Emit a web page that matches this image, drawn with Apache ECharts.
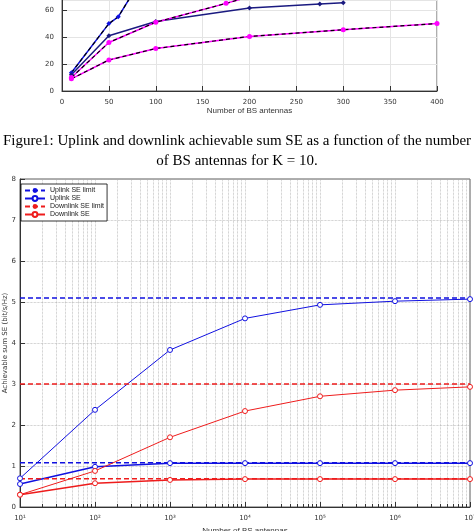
<!DOCTYPE html>
<html><head><meta charset="utf-8">
<script src="https://cdn.jsdelivr.net/npm/echarts@6/dist/echarts.min.js"></script>
<style>html,body{margin:0;padding:0;background:#fff}#c{width:474px;height:531px}</style>
</head><body><div id="c"></div>
<script>
// Top chart (Figure 1, cropped)
const topBlueSteep = [[10,13.5],[50,50],[60,55],[75,72]];
const topBlueMid = [[10,12],[50,41],[100,51.5],[200,61.5],[275,64.5],[300,65.5]];
const topMagUpper = [[10,10],[50,36],[100,51],[175,65],[200,70]];
const topMagLower = [[10,9],[50,23],[100,31.5],[200,40.5],[300,45.5],[400,50]];
// Bottom chart
const antennas = [10,100,1000,10000,100000,1000000,10000000];
const uplinkLimitHigh = 5.1, uplinkLimitLow = 1.08;
const downlinkLimitHigh = 3.0, downlinkLimitLow = 0.69;
const uplinkHigh = [0.7,2.37,3.83,4.6,4.93,5.02,5.07];
const uplinkLow = [0.56,0.98,1.07,1.07,1.07,1.07,1.07];
const downlinkHigh = [0.3,0.88,1.7,2.34,2.7,2.85,2.93];
const downlinkLow = [0.3,0.58,0.66,0.68,0.68,0.68,0.68];
const captionLines = ['Figure1: Uplink and downlink achievable sum SE as a function of the number','of BS antennas for K = 10.'];
const yTitle = 'Achievable sum SE (bit/s/Hz)';

const pair = a => antennas.map((x,i)=>[x,a[i]]);
const flat = v => [[10,v],[1e7,v]];
const supMap = {'1':'¹','2':'²','3':'³','4':'⁴','5':'⁵','6':'⁶','7':'⁷'};
const blue='#1010e0', red='#ee1c1c', mag='#ff00ff';
const axisTxt = {fontSize:7,color:'#333',fontFamily:'DejaVu Sans'};
const dotGrid = {show:true,lineStyle:{type:'dotted',color:'#aaa',width:0.7}};
const chart = echarts.init(document.getElementById('c'));
chart.setOption({
  animation:false,
  graphic: captionLines.map((t,i)=>({type:'text',left:'center',top:134+i*20,
    style:{text:t,font:'15px "Liberation Serif"',fill:'#000'}})).concat([
    {type:'text',x:5,y:343,rotation:Math.PI/2,
     style:{text:yTitle,font:'7px "DejaVu Sans"',fill:'#333',align:'center',verticalAlign:'middle'}}]),
  legend:{left:21,top:184,orient:'vertical',itemGap:1,itemWidth:20,itemHeight:6,
    padding:[3,3,3,3],backgroundColor:'#fff',borderColor:'#000',borderWidth:0.8,
    textStyle:{fontSize:7,color:'#222'},
    data:['Uplink SE limit','Uplink SE','Downlink SE limit','Downlink SE']},
  grid:[
    {left:62,right:37,top:0,bottom:440,show:true,borderColor:'#333',borderWidth:0.8,outerBoundsMode:'none',containLabel:false},
    {left:20,right:4,top:179,bottom:24,show:true,borderColor:'#333',borderWidth:0.8,outerBoundsMode:'none',containLabel:false}
  ],
  xAxis:[
    {gridIndex:0,type:'value',min:0,max:400,interval:50,name:'Number of BS antennas',nameLocation:'middle',nameGap:16,
     nameTextStyle:{fontSize:8,color:'#333'},axisLabel:axisTxt,axisLine:{lineStyle:{color:'#333'}},
     axisTick:{inside:true},splitLine:{show:true,lineStyle:{color:'#e4e4e4'}}},
    {gridIndex:1,type:'log',logBase:10,min:10,max:1e7,name:'Number of BS antennas',nameLocation:'middle',nameGap:16,
     nameTextStyle:{fontSize:8,color:'#333'},
     axisLabel:Object.assign({},axisTxt,{formatter:v=>'10'+(supMap[String(Math.round(Math.log10(v)))]||'')}),
     axisLine:{lineStyle:{color:'#333'}},axisTick:{inside:true},
     minorTick:{show:true,splitNumber:9},splitLine:dotGrid,minorSplitLine:dotGrid}
  ],
  yAxis:[
    {gridIndex:0,type:'value',min:0,max:67.5,interval:20,axisLabel:Object.assign({},axisTxt,{showMaxLabel:false}),
     axisLine:{lineStyle:{color:'#333'}},axisTick:{inside:true},splitLine:{show:true,lineStyle:{color:'#e4e4e4'}}},
    {gridIndex:1,type:'value',min:0,max:8,interval:1,
     axisLabel:Object.assign({},axisTxt,{margin:4}),
     axisLine:{lineStyle:{color:'#333'}},axisTick:{inside:true},splitLine:dotGrid}
  ],
  series:[
    {type:'line',xAxisIndex:0,yAxisIndex:0,data:topBlueSteep,color:blue,symbol:'diamond',symbolSize:5,lineStyle:{width:1.5}},
    {type:'line',xAxisIndex:0,yAxisIndex:0,data:topBlueSteep,color:'#000',symbol:'none',lineStyle:{width:1.2,type:[4,3]}},
    {type:'line',xAxisIndex:0,yAxisIndex:0,data:topBlueMid,color:'#1a1a80',symbol:'diamond',symbolSize:5,lineStyle:{width:1.5}},
    {type:'line',xAxisIndex:0,yAxisIndex:0,data:topMagUpper,color:mag,symbol:'circle',symbolSize:5,lineStyle:{width:1.5}},
    {type:'line',xAxisIndex:0,yAxisIndex:0,data:topMagUpper,color:'#000',symbol:'none',lineStyle:{width:1.2,type:[4,3]}},
    {type:'line',xAxisIndex:0,yAxisIndex:0,data:topMagLower,color:mag,symbol:'circle',symbolSize:5,lineStyle:{width:1.5}},
    {type:'line',xAxisIndex:0,yAxisIndex:0,data:topMagLower,color:'#000',symbol:'none',lineStyle:{width:1.2,type:[4,3]}},

    {name:'Uplink SE limit',type:'line',xAxisIndex:1,yAxisIndex:1,data:flat(uplinkLimitHigh),color:blue,symbol:'none',lineStyle:{width:1.5,type:[5,3]}},
    {name:'Uplink SE limit',type:'line',xAxisIndex:1,yAxisIndex:1,data:flat(uplinkLimitLow),color:blue,symbol:'none',lineStyle:{width:1.5,type:[5,3]}},
    {name:'Uplink SE',type:'line',xAxisIndex:1,yAxisIndex:1,data:pair(uplinkHigh),color:blue,symbol:'circle',symbolSize:5,itemStyle:{color:'#fff',borderColor:blue,borderWidth:1},lineStyle:{width:1,color:blue}},
    {name:'Uplink SE',type:'line',xAxisIndex:1,yAxisIndex:1,data:pair(uplinkLow),color:blue,symbol:'circle',symbolSize:5,itemStyle:{color:'#fff',borderColor:blue,borderWidth:1},lineStyle:{width:1.5,color:blue}},
    {name:'Downlink SE limit',type:'line',xAxisIndex:1,yAxisIndex:1,data:flat(downlinkLimitHigh),color:red,symbol:'none',lineStyle:{width:1.5,type:[5,3]}},
    {name:'Downlink SE limit',type:'line',xAxisIndex:1,yAxisIndex:1,data:flat(downlinkLimitLow),color:red,symbol:'none',lineStyle:{width:1.5,type:[5,3]}},
    {name:'Downlink SE',type:'line',xAxisIndex:1,yAxisIndex:1,data:pair(downlinkHigh),color:red,symbol:'circle',symbolSize:5,itemStyle:{color:'#fff',borderColor:red,borderWidth:1},lineStyle:{width:1,color:red}},
    {name:'Downlink SE',type:'line',xAxisIndex:1,yAxisIndex:1,data:pair(downlinkLow),color:red,symbol:'circle',symbolSize:5,itemStyle:{color:'#fff',borderColor:red,borderWidth:1},lineStyle:{width:1.5,color:red}}
  ]
});
</script></body></html>
